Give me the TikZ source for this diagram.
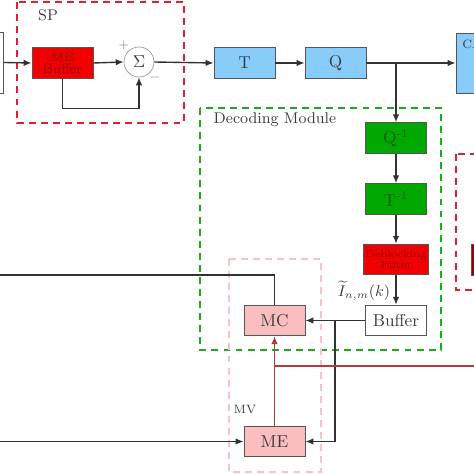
\documentclass[tikz,border=0pt]{standalone}
\usepackage{tikz}
\usetikzlibrary{shapes, arrows, arrows.meta, positioning}

\definecolor{linegray}{RGB}{50,50,50}
\definecolor{boxgray}{RGB}{85,85,85}
\definecolor{textgray}{RGB}{60,60,60}
\definecolor{blockblue}{RGB}{135,204,250}
\definecolor{blockgreen}{RGB}{0,168,0}
\definecolor{textgreen}{RGB}{20,90,20}
\definecolor{blockred}{RGB}{240,0,0}
\definecolor{textred}{RGB}{140,0,0}
\definecolor{blockpink}{RGB}{250,190,190}
\definecolor{blockdarkred}{RGB}{150,0,0}
\definecolor{mvred}{RGB}{175,60,60}
\definecolor{framegreen}{RGB}{30,170,30}
\definecolor{framered}{RGB}{215,35,50}
\definecolor{framepink}{RGB}{245,195,200}

\tikzset{
	block/.style={draw=boxgray, line width=0.5pt, minimum width=35.4pt, minimum height=17.7pt, inner sep=1pt, text=textgray},
	bluebox/.style={block, fill=blockblue},
	greenbox/.style={block, fill=blockgreen, text=textgreen},
	redbox/.style={block, fill=blockred, text=textred, align=center},
	pinkbox/.style={block, fill=blockpink},
	wire/.style={draw=linegray, thick},
	modframe/.style={line width=1.2pt, dash pattern=on 4pt off 3pt},
	framelabel/.style={text=textgray, inner sep=0pt}
}

\begin{document}
\begin{tikzpicture}[x=0.58pt, y=-0.58pt, >={Latex[length=4.6pt,width=3.8pt]}]
	\useasboundingbox (0,0) rectangle (474,474);
	\clip (0,0) rectangle (474,474);
	%Frames
		\draw[modframe, framered] (17,2) rectangle (184,123);
		\node[framelabel] (splabel) at (48,15) {\small SP};
		\draw[modframe, framegreen] (200,108) rectangle (441,350);
		\node[framelabel] (declabel) at (275,120) {\small Decoding Module};
		\draw[modframe, framepink] (229,259) rectangle (321,472);
		\node[framelabel] (mvlabel) at (245,409) {\scriptsize MV};
		\draw[modframe, framered] (456,154) rectangle (560,290);
	%Input
		\node[block, fill=white, minimum height=35.4pt] (inbox) at (-27,62.5) {};
	%SP
		\node[redbox, font=\fontsize{8}{7}\selectfont] (mbbuf) at (62.5,63) {MB\\Buffer};
		\node[circle, draw=gray!80, minimum size=17.4pt, inner sep=0pt, text=textgray] (sum) at (139,62) {$\Sigma$};
		\node[text=gray, font=\scriptsize] (plus) at (124,45) {$+$};
		\node[text=gray, font=\scriptsize] (minus) at (155,77) {$-$};
	%Transform and quantization
		\node[bluebox] (tr) at (244.5,63) {T};
		\node[bluebox] (qu) at (335.5,63) {Q};
		\node[bluebox, minimum height=34.8pt] (ca) at (486.5,63) {};
		\node[text=textgray, font=\scriptsize, anchor=north west, inner sep=0pt] (calabel) at (462,40) {CABAC};
	%Decoding Module
		\node[greenbox] (qinv) at (396,138) {Q\textsuperscript{-1}};
		\node[greenbox] (tinv) at (396,199) {T\textsuperscript{-1}};
		\node[redbox, font=\fontsize{6}{6}\selectfont] (dbf) at (396,259.5) {Deblocking\\Filter};
		\node[block, fill=white] (buf) at (396,320.5) {Buffer};
		\node[text=textgray, font=\small, inner sep=0pt] (rec) at (364,291) {$\widetilde{I}_{n,m}(k)$};
	%MV
		\node[pinkbox] (mc) at (274.5,320.5) {MC};
		\node[pinkbox] (me) at (274.5,441.5) {ME};
		\node[fill=blockdarkred, draw=boxgray, minimum width=35.4pt, minimum height=17.7pt] (dark) at (501.5,260) {};
	%Forward path
		\draw[wire, ->] (inbox.east) -- (mbbuf.west);
		\draw[wire, ->] (mbbuf.east) -- (sum.west);
		\draw[wire, ->] (mbbuf.south) -- ++(0,30) -| (sum.south);
		\draw[wire, ->] (sum.east) -- (tr.west);
		\draw[wire, ->] (tr.east) -- (qu.west);
		\draw[wire, ->] (qu.east) -- (ca.west);
	%Inverse path
		\coordinate (qsplit) at (qu.east -| qinv.north);
		\draw[wire, ->] (qsplit) -- (qinv.north);
		\draw[wire, ->] (qinv.south) -- (tinv.north);
		\draw[wire, ->] (tinv.south) -- (dbf.north);
		\draw[wire, ->] (dbf.south) -- (buf.north);
	%Buffer->MC, ME
		\coordinate (bsplit) at (335,320.5);
		\draw[wire, ->] (buf.west) -- (mc.east);
		\draw[wire, ->] (bsplit) |- (me.east);
	%Outer lines
		\coordinate (mcout) at (-10,275);
		\coordinate (curin) at (-10,441.5);
		\draw[wire] (mc.north) |- (mcout);
		\draw[wire, ->] (curin) -- (me.west);
	%Motion vectors
		\draw[thick, mvred, ->] (me.north) -- (mc.south);
		\coordinate (mvsplit) at (274.5,366);
		\coordinate (mvout) at (520,366);
		\draw[thick, mvred] (mvsplit) -- (mvout);
\end{tikzpicture}
\end{document}
